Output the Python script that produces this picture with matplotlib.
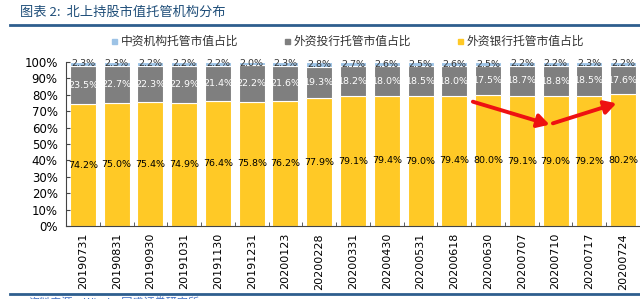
import matplotlib.pyplot as plt
import numpy as np

plt.rcParams['font.family'] = ['DejaVu Sans', 'Noto Sans CJK SC']

dates = ['20190731', '20190831', '20190930', '20191031', '20191130', '20191231',
         '20200123', '20200228', '20200331', '20200430', '20200531', '20200618',
         '20200630', '20200707', '20200710', '20200717', '20200724']
cn_share = [2.3, 2.3, 2.2, 2.2, 2.2, 2.0, 2.3, 2.8, 2.7, 2.6, 2.5, 2.6, 2.5, 2.2, 2.2, 2.3, 2.2]
inv_share = [23.5, 22.7, 22.3, 22.9, 21.4, 22.2, 21.6, 19.3, 18.2, 18.0, 18.5, 18.0,
             17.5, 18.7, 18.8, 18.5, 17.6]
bank_share = [74.2, 75.0, 75.4, 74.9, 76.4, 75.8, 76.2, 77.9, 79.1, 79.4, 79.0, 79.4,
              80.0, 79.1, 79.0, 79.2, 80.2]
series_names = ['中资机构托管市值占比', '外资投行托管市值占比', '外资银行托管市值占比']

c_blue = '#9DC3E6'
c_gray = '#7F7F7F'
c_yellow = '#FFC926'
c_title = '#1F4E79'
c_line = '#2E5E8E'
cjk = ['Noto Sans CJK SC', 'DejaVu Sans']

fig = plt.figure(figsize=(6.4, 2.99), dpi=100)
ax = fig.add_axes([66 / 640, 1 - 226 / 299, 574 / 640, 164 / 299])

x = np.arange(len(dates))
bank = np.array(bank_share)
inv = np.array(inv_share)
cn = np.array(cn_share)
w = 0.77
ax.bar(x, bank, w, color=c_yellow, edgecolor='white', linewidth=0.8)
ax.bar(x, inv, w, bottom=bank, color=c_gray, edgecolor='white', linewidth=0.8)
ax.bar(x, cn, w, bottom=bank + inv, color=c_blue, edgecolor='white', linewidth=0.8)

for i in x:
    ax.text(i, bank[i] / 2, f'{bank[i]:.1f}%', ha='center', va='center', fontsize=6.8, color='black')
    ax.text(i, bank[i] + inv[i] / 2, f'{inv[i]:.1f}%', ha='center', va='center', fontsize=6.8, color='white')
    ax.text(i, bank[i] + inv[i] + cn[i] / 2, f'{cn[i]:.1f}%', ha='center', va='center',
            fontsize=6.8, color='#333333')

ax.set_xlim(-0.5, len(dates) - 0.5)
ax.set_ylim(0, 100)
ax.set_yticks(np.arange(0, 101, 10))
ax.set_yticklabels([f'{v}%' for v in range(0, 101, 10)], fontsize=8.5)
ax.set_xticks(x)
ax.set_xticklabels(dates, rotation=90, fontsize=8)
ax.set_xticks(np.arange(-0.5, len(dates), 1), minor=True)
ax.tick_params(axis='x', which='major', length=0, pad=5)
ax.tick_params(axis='x', which='minor', length=3, direction='in', color='#444444')
ax.tick_params(axis='y', length=3, direction='in', color='#444444', pad=6)
for s in ['top', 'right']:
    ax.spines[s].set_visible(False)
ax.spines['left'].set_color('#444444')
ax.spines['bottom'].set_color('#444444')

# red trend arrows
arr = dict(arrowstyle='-|>,head_length=0.7,head_width=0.4', color='#EE1111', lw=2.8,
           shrinkA=0, shrinkB=0)
ax.annotate('', xy=(13.82, 61.8), xytext=(11.55, 75.8), arrowprops=arr)
ax.annotate('', xy=(15.8, 74.8), xytext=(13.92, 62.6), arrowprops=arr)

# legend
leg_x = [112, 285, 458]
leg_c = [c_blue, c_gray, c_yellow]
for lx, lc, name in zip(leg_x, leg_c, series_names):
    fig.patches.append(plt.Rectangle((lx / 640, 1 - 44 / 299), 5 / 640, 5 / 299,
                                     transform=fig.transFigure, color=lc))
    fig.text((lx + 9) / 640, 1 - 41 / 299, name, fontsize=8.5, family=cjk,
             color='#333333', va='center', ha='left')

# header and footer
fig.text(20 / 640, 1 - 12 / 299, '图表 2:  北上持股市值托管机构分布', fontsize=9.5,
         family=cjk, style='italic', color=c_title, va='center', ha='left')
fig.add_artist(plt.Line2D([10 / 640, 1], [1 - 25 / 299] * 2, color=c_line, lw=2,
                          transform=fig.transFigure))
fig.add_artist(plt.Line2D([10 / 640, 1], [1 - 294 / 299] * 2, color=c_line, lw=2,
                          transform=fig.transFigure))
fig.text(28 / 640, 1 - 302 / 299, '资料来源：Wind，国盛证券研究所', fontsize=8,
         family=cjk, color='#4472C4', va='center', ha='left')

fig.savefig('out.png', dpi=100)
